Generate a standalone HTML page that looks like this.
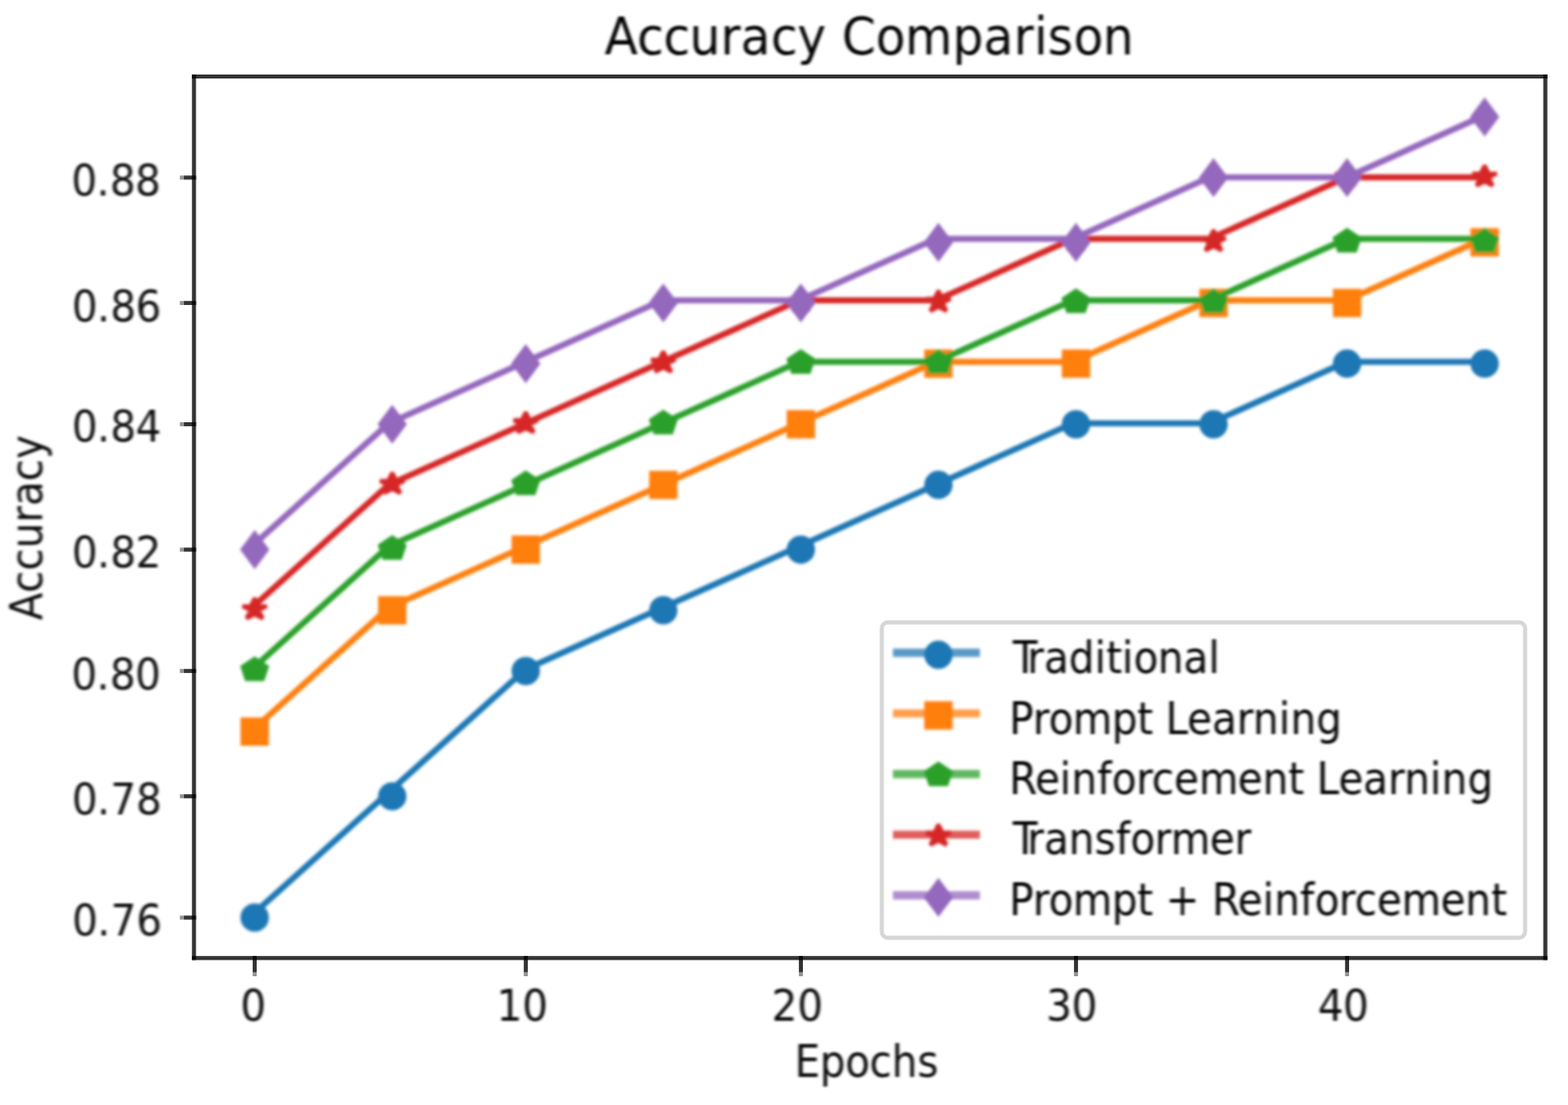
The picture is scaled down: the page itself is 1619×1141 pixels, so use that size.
<!DOCTYPE html>
<html lang="en"><head><meta charset="utf-8"><title>Accuracy Comparison</title>
<style>
html,body{margin:0;padding:0;background:#fff;}
body{width:1619px;height:1141px;overflow:hidden;}
svg{display:block;}
text{font-family:"DejaVu Sans","Liberation Sans",sans-serif;fill:#000;white-space:pre;}
.tk{fill:#000;fill-opacity:.8;}
.te{fill:#000;fill-opacity:.42;}
.lg{fill:none;stroke-width:8.35;stroke-opacity:.75;stroke-linecap:butt;}
.ln{fill:none;stroke-width:6.26;stroke-linejoin:round;stroke-linecap:square;}
.t10{font-size:41.78px;}
.t12{font-size:50.13px;fill-opacity:0.994;}
.tick{fill-opacity:0.937;}
.xtick{fill-opacity:0.96;}
.lab{fill-opacity:0.965;}
.leg{fill-opacity:0.987;}
</style></head><body>
<svg width="1619" height="1141" viewBox="0 0 1619 1141" role="img" aria-label="Accuracy Comparison line chart">
<defs>
<g id="mo" transform="scale(4.1775 4.1755)" fill="#1f77b4" stroke="#1f77b4" stroke-width="1" stroke-linejoin="round"><circle r="3"/></g>
<g id="ms" transform="scale(4.1775 4.1755)" fill="#ff7f0e" stroke="#ff7f0e" stroke-width="1" stroke-linejoin="miter"><rect x="-3" y="-3" width="6" height="6"/></g>
<g id="mp" transform="scale(4.1775 4.1755)" fill="#2ca02c" stroke="#2ca02c" stroke-width="1" stroke-linejoin="miter"><polygon points="0,-3 -3,-1 -2,2 2,2 3,-1"/></g>
<g id="mstar" transform="scale(4.1775 4.1755)" fill="#d62728" stroke="#d62728" stroke-width="1" stroke-linejoin="bevel"><polygon points="0,-3 -1,-1 -3,-1 -1,0 -2,2 0,1 2,2 1,0 3,-1 1,-1"/></g>
<g id="md" transform="scale(4.1775 4.1755)" fill="#9467bd" stroke="#9467bd" stroke-width="1" stroke-linejoin="miter"><polygon points="0,-4 3,0 0,4 -3,0"/></g>
<filter id="softp" x="-5%" y="-5%" width="110%" height="110%"><feGaussianBlur stdDeviation="1.6"/></filter>
<filter id="softt" x="-5%" y="-20%" width="110%" height="140%"><feGaussianBlur stdDeviation="1.6 1.1"/></filter>
</defs>
<rect width="1619" height="1141" fill="#fff"/>
<!-- data series: line + markers (marker centres sit on the original raster grid) -->
<g id="plot" filter="url(#softp)">
<polyline class="ln" stroke="#1f77b4" points="260.04,945.14 401.31,818.15 542.59,691.16 683.86,627.67 825.14,564.17 966.41,500.68 1107.69,437.18 1248.96,437.18 1390.24,373.69 1531.51,373.69"/>
<use href="#mo" x="262.96" y="947.5"/>
<use href="#mo" x="405" y="822.24"/>
<use href="#mo" x="542.86" y="692.8"/>
<use href="#mo" x="684.89" y="630.17"/>
<use href="#mo" x="826.92" y="567.53"/>
<use href="#mo" x="968.96" y="500.73"/>
<use href="#mo" x="1111" y="438.09"/>
<use href="#mo" x="1253.03" y="438.09"/>
<use href="#mo" x="1390.89" y="375.46"/>
<use href="#mo" x="1532.92" y="375.46"/>
<polyline class="ln" stroke="#ff7f0e" points="260.04,754.66 401.31,627.67 542.59,564.17 683.86,500.68 825.14,437.18 966.41,373.69 1107.69,373.69 1248.96,310.2 1390.24,310.2 1531.51,246.7"/>
<use href="#ms" x="262.96" y="755.43"/>
<use href="#ms" x="405" y="630.17"/>
<use href="#ms" x="542.86" y="567.53"/>
<use href="#ms" x="684.89" y="500.73"/>
<use href="#ms" x="826.92" y="438.09"/>
<use href="#ms" x="968.96" y="375.46"/>
<use href="#ms" x="1111" y="375.46"/>
<use href="#ms" x="1253.03" y="312.83"/>
<use href="#ms" x="1390.89" y="312.83"/>
<use href="#ms" x="1532.92" y="250.2"/>
<polyline class="ln" stroke="#2ca02c" points="260.04,691.16 401.31,564.17 542.59,500.68 683.86,437.18 825.14,373.69 966.41,373.69 1107.69,310.2 1248.96,310.2 1390.24,246.7 1531.51,246.7"/>
<use href="#mp" x="262.96" y="692.8"/>
<use href="#mp" x="405" y="567.53"/>
<use href="#mp" x="542.86" y="500.73"/>
<use href="#mp" x="684.89" y="438.09"/>
<use href="#mp" x="826.92" y="375.46"/>
<use href="#mp" x="968.96" y="375.46"/>
<use href="#mp" x="1111" y="312.83"/>
<use href="#mp" x="1253.03" y="312.83"/>
<use href="#mp" x="1390.89" y="250.2"/>
<use href="#mp" x="1532.92" y="250.2"/>
<polyline class="ln" stroke="#d62728" points="260.04,627.67 401.31,500.68 542.59,437.18 683.86,373.69 825.14,310.2 966.41,310.2 1107.69,246.7 1248.96,246.7 1390.24,183.21 1531.51,183.21"/>
<use href="#mstar" x="262.96" y="630.17"/>
<use href="#mstar" x="405" y="500.73"/>
<use href="#mstar" x="542.86" y="438.09"/>
<use href="#mstar" x="684.89" y="375.46"/>
<use href="#mstar" x="826.92" y="312.83"/>
<use href="#mstar" x="968.96" y="312.83"/>
<use href="#mstar" x="1111" y="250.2"/>
<use href="#mstar" x="1253.03" y="250.2"/>
<use href="#mstar" x="1390.89" y="183.39"/>
<use href="#mstar" x="1532.92" y="183.39"/>
<polyline class="ln" stroke="#9467bd" points="260.04,564.17 401.31,437.18 542.59,373.69 683.86,310.2 825.14,310.2 966.41,246.7 1107.69,246.7 1248.96,183.21 1390.24,183.21 1531.51,119.71"/>
<use href="#md" x="262.96" y="567.53"/>
<use href="#md" x="405" y="438.09"/>
<use href="#md" x="542.86" y="375.46"/>
<use href="#md" x="684.89" y="312.83"/>
<use href="#md" x="826.92" y="312.83"/>
<use href="#md" x="968.96" y="250.2"/>
<use href="#md" x="1111" y="250.2"/>
<use href="#md" x="1253.03" y="183.39"/>
<use href="#md" x="1390.89" y="183.39"/>
<use href="#md" x="1532.92" y="120.75"/>
</g>
<!-- axes frame and tick marks -->
<g id="axes">
<rect class="tk" x="198.21" y="76.91" width="4.18" height="914.43"/>
<rect class="tk" x="1593.5" y="76.91" width="4.18" height="914.43"/>
<rect class="tk" x="198.21" y="76.91" width="1399.46" height="4.18"/>
<rect class="tk" x="198.21" y="987.17" width="1399.46" height="4.18"/>
<rect class="tk" x="260.87" y="987.17" width="4.18" height="16.7"/>
<rect class="te" x="260.87" y="1003.87" width="4.18" height="4.18"/>
<rect class="tk" x="540.77" y="987.17" width="4.18" height="16.7"/>
<rect class="te" x="540.77" y="1003.87" width="4.18" height="4.18"/>
<rect class="tk" x="824.84" y="987.17" width="4.18" height="16.7"/>
<rect class="te" x="824.84" y="1003.87" width="4.18" height="4.18"/>
<rect class="tk" x="1108.91" y="987.17" width="4.18" height="16.7"/>
<rect class="te" x="1108.91" y="1003.87" width="4.18" height="4.18"/>
<rect class="tk" x="1388.8" y="987.17" width="4.18" height="16.7"/>
<rect class="te" x="1388.8" y="1003.87" width="4.18" height="4.18"/>
<rect class="tk" x="189.86" y="181.3" width="12.53" height="4.18"/>
<rect class="te" x="185.68" y="181.3" width="4.18" height="4.18"/>
<rect class="tk" x="189.86" y="310.74" width="12.53" height="4.18"/>
<rect class="te" x="185.68" y="310.74" width="4.18" height="4.18"/>
<rect class="tk" x="189.86" y="436.01" width="12.53" height="4.18"/>
<rect class="te" x="185.68" y="436.01" width="4.18" height="4.18"/>
<rect class="tk" x="189.86" y="565.45" width="12.53" height="4.18"/>
<rect class="te" x="185.68" y="565.45" width="4.18" height="4.18"/>
<rect class="tk" x="189.86" y="690.71" width="12.53" height="4.18"/>
<rect class="te" x="185.68" y="690.71" width="4.18" height="4.18"/>
<rect class="tk" x="189.86" y="820.15" width="12.53" height="4.18"/>
<rect class="te" x="185.68" y="820.15" width="4.18" height="4.18"/>
<rect class="tk" x="189.86" y="945.42" width="12.53" height="4.18"/>
<rect class="te" x="185.68" y="945.42" width="4.18" height="4.18"/>
</g>
<!-- title, axis labels and tick labels -->
<g id="labels" filter="url(#softt)">
<text class="t12" transform="translate(624.32 56.03) scale(1 1.060)" x="0 33.42 60.57 87.73 119.58 140.47 171.8 198.95 228.72 244.91 279.89 310.18 359.27 391.12 422.45 443.34 457.44 484.07 514.35" y="0">Accuracy Comparison</text>
<text class="t10 lab" transform="translate(820.41 1112.44) scale(1 1.085)" x="0 26.11 52.22 77.28 100.26 126.89" y="0">Epochs</text>
<text class="t10 lab" transform="translate(43.89 640.43) rotate(-90) scale(1 1.085)" x="0 28.2 51.17 74.15 100.78 118.01 143.6 166.58" y="0">Accuracy</text>
<text class="t10 xtick" transform="translate(248.23 1053.73) scale(1 1.065)" x="0" y="0">0</text>
<text class="t10 xtick" transform="translate(512.68 1053.73) scale(1 1.065)" x="0 26.63" y="0">10</text>
<text class="t10 xtick" transform="translate(796.64 1054.23) scale(1 1.065)" x="0 26.63" y="0">20</text>
<text class="t10 xtick" transform="translate(1080.27 1053.73) scale(1 1.065)" x="0 26.11" y="0">30</text>
<text class="t10 xtick" transform="translate(1360.66 1053.73) scale(1 1.065)" x="0 26.11" y="0">40</text>
<text class="t10 tick" transform="translate(73.7 202.18) scale(1 1.065)" x="0 26.11 39.69 65.8" y="0">0.88</text>
<text class="t10 tick" transform="translate(74.2 331.87) scale(1 1.065)" x="0 26.11 39.69 65.8" y="0">0.86</text>
<text class="t10 tick" transform="translate(74.2 456.13) scale(1 1.065)" x="0 26.11 39.69 65.8" y="0">0.84</text>
<text class="t10 tick" transform="translate(74.2 585.82) scale(1 1.065)" x="0 26.11 39.69 65.8" y="0">0.82</text>
<text class="t10 tick" transform="translate(73.7 711.59) scale(1 1.065)" x="0 26.11 39.69 65.8" y="0">0.80</text>
<text class="t10 tick" transform="translate(74.2 840.78) scale(1 1.065)" x="0 26.11 39.69 66.32" y="0">0.78</text>
<text class="t10 tick" transform="translate(74.45 966.04) scale(1 1.065)" x="0 26.11 39.69 66.32" y="0">0.76</text>
</g>
<!-- legend -->
<g id="legend">
<rect x="910.48" y="642.69" width="664.22" height="325.69" rx="6.27" ry="6.26" fill="#fff" fill-opacity=".8" stroke="#ccc" stroke-opacity=".8" stroke-width="4.18"/>
<g filter="url(#softp)">
<line class="lg" stroke="#1f77b4" x1="921.96" y1="674.01" x2="1011.78" y2="674.01"/>
<use href="#mo" x="968.96" y="676.1"/>
<line class="lg" stroke="#ff7f0e" x1="921.96" y1="736.64" x2="1011.78" y2="736.64"/>
<use href="#ms" x="968.96" y="738.73"/>
<line class="lg" stroke="#2ca02c" x1="921.96" y1="799.27" x2="1011.78" y2="799.27"/>
<use href="#mp" x="968.96" y="801.36"/>
<line class="lg" stroke="#d62728" x1="921.96" y1="861.91" x2="1011.78" y2="861.91"/>
<use href="#mstar" x="968.96" y="863.99"/>
<line class="lg" stroke="#9467bd" x1="921.96" y1="924.54" x2="1011.78" y2="924.54"/>
<use href="#md" x="968.96" y="926.63"/>
</g>
<g filter="url(#softt)">
<text class="t10 leg" transform="translate(1041.96 694.89) scale(1 1.085)" x="3.79 18.8 36.03 61.62 88.25 100.26 116.45 128.46 153.52 180.15 205.74" y="0">Traditional</text>
<text class="t10 leg" transform="translate(1042.07 757.52) scale(1 1.085)" x="0 24.54 40.73 65.8 106 132.11 148.3 161.36 183.81 209.4 234.98 251.69 278.33 290.34 316.97" y="0">Prompt Learning</text>
<text class="t10 leg" transform="translate(1042.07 820.15) scale(1 1.085)" x="0 26.63 52.22 64.23 90.86 106 131.07 147.26 170.23 195.82 236.03 261.62 288.25 304.44 317.49 339.94 365.53 391.12 407.83 434.46 446.47 473.1" y="0">Reinforcement Learning</text>
<text class="t10 leg" transform="translate(1041.96 882.28) scale(1 1.085)" x="3.79 18.8 36.03 61.62 88.25 110.18 125.33 150.39 167.1 207.31 232.9" y="0">Transformer</text>
<text class="t10 leg" transform="translate(1042.07 945.42) scale(1 1.085)" x="0 24.54 40.73 65.8 106 132.11 148.3 161.36 196.34 209.4 236.03 261.62 273.63 300.26 315.4 340.47 356.65 379.63 405.22 445.43 471.01 497.64" y="0">Prompt + Reinforcement</text>
</g>
</g>
</svg>
</body></html>
